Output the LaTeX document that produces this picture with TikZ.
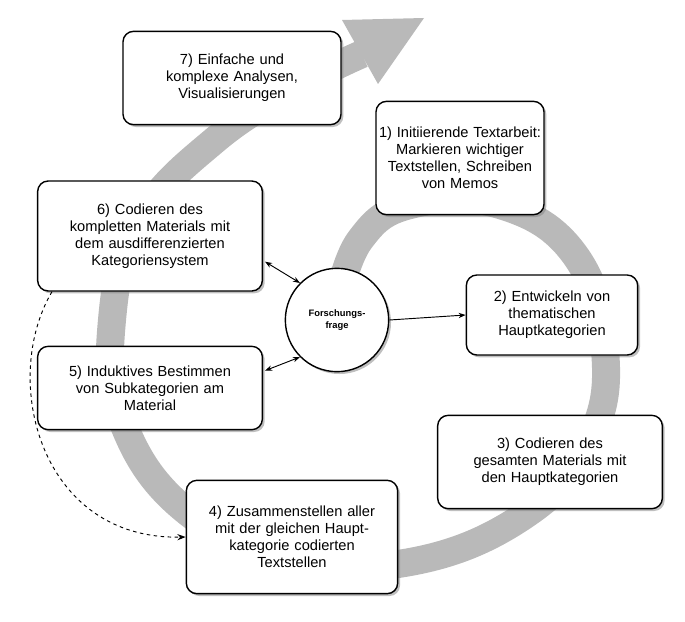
\documentclass[tikz,border=0pt]{standalone}
\usepackage{fontspec}
\setmainfont{Liberation Sans}
\usetikzlibrary{arrows.meta,shadows}
\begin{document}
\begin{tikzpicture}[x=0.03cm,y=-0.03cm,
  stepbox/.style={draw=black,very thick,fill=white,rounded corners=9pt,align=center,font=\fontsize{12.5}{14.5}\selectfont,drop shadow={shadow xshift=2pt,shadow yshift=-2pt,fill=black!50},inner sep=2pt},
  conn/.style={{Stealth[length=6pt]}-{Stealth[length=6pt]},thick}]
\useasboundingbox (0,0) rectangle (685,621);
\draw[line width=0.84cm,gray!55] plot[smooth,tension=0.7] coordinates {(338,300)(360,240)(410,205)(500,205)(575,255)(605,350)(590,440)(525,515)(410,562)(290,558)(185,510)(122,420)(112,320)(140,220)(215,140)(300,85)(362,54)};
\fill[gray!55] (378,84) -- (342,20) -- (424,18) -- cycle;
\node[stepbox,text width=6.4cm,minimum height=2.8cm] (n7) at (232,78) {7) Einfache und\\komplexe Analysen,\\Visualisierungen};
\node[stepbox,text width=4.9cm,minimum height=3.4cm] (n1) at (460,158) {1) Initiierende Textarbeit:\\Markieren wichtiger\\Textstellen, Schreiben\\von Memos};
\node[stepbox,text width=6.6cm,minimum height=3.3cm] (n6) at (150,236) {6) Codieren des\\kompletten Materials mit\\dem ausdifferenzierten\\Kategoriensystem};
\node[circle,draw,very thick,fill=white,minimum size=3.1cm,align=center,font=\bfseries\fontsize{8}{10}\selectfont,drop shadow={shadow xshift=2pt,shadow yshift=-2pt,fill=black!50}] (fq) at (337,320) {Forschungs-\\frage};
\node[stepbox,text width=5cm,minimum height=2.4cm] (n2) at (552,315) {2) Entwickeln von\\thematischen\\Hauptkategorien};
\node[stepbox,text width=6.6cm,minimum height=2.5cm] (n5) at (150,388) {5) Induktives Bestimmen\\von Subkategorien am\\Material};
\node[stepbox,text width=6.6cm,minimum height=2.8cm] (n3) at (550,462) {3) Codieren des\\gesamten Materials mit\\den Hauptkategorien};
\node[stepbox,text width=6.2cm,minimum height=3.4cm] (n4) at (292,537) {4) Zusammenstellen aller\\mit der gleichen Haupt-\\kategorie codierten\\Textstellen};
\draw[conn] (n6.south east) ++(2,-30) -- (fq.north west);
\draw[conn] (n5.north east) ++(2,25) -- (fq.south west);
\draw[-{Stealth[length=6pt]},thick] (fq.east) -- (n2.west);
\draw[dashed,thick,-{Stealth[length=7pt]}] (n6.south west) ++(15,0) .. controls (0,380) and (40,540) .. (n4.west);
\end{tikzpicture}
\end{document}
